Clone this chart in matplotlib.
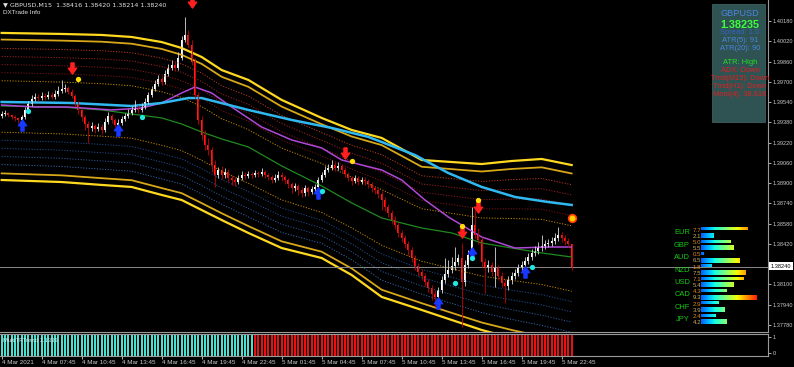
import numpy as np
import matplotlib
matplotlib.use('Agg')
import matplotlib.pyplot as plt
from matplotlib.patches import Rectangle
from matplotlib.path import Path
from matplotlib.colors import LinearSegmentedColormap

plt.rcParams['font.family'] = ['Liberation Sans', 'DejaVu Sans']

# ---- GBPUSD M15, 4 Mar 04:45 .. 5 Mar 23:45 ----
first_open = 1.39430
closes = [
    1.39446, 1.39454, 1.39438, 1.39422, 1.39415, 1.39399, 1.39422, 1.39478, 1.39525, 1.39565,
    1.39580, 1.39572, 1.39588, 1.39580, 1.39596, 1.39580, 1.39604, 1.39628, 1.39643, 1.39651,
    1.39620, 1.39588, 1.39533, 1.39478, 1.39422, 1.39367, 1.39336, 1.39351, 1.39328, 1.39343,
    1.39320, 1.39383, 1.39430, 1.39399, 1.39359, 1.39375, 1.39407, 1.39430, 1.39454, 1.39478,
    1.39493, 1.39478, 1.39501, 1.39541, 1.39596, 1.39643, 1.39683, 1.39722, 1.39699, 1.39762,
    1.39809, 1.39833, 1.39809, 1.39888, 1.40030, 1.40070, 1.39991, 1.39857, 1.39596, 1.39399,
    1.39280, 1.39201, 1.39162, 1.39043, 1.38965, 1.39004, 1.38965, 1.38988, 1.38941, 1.38925,
    1.38909, 1.38941, 1.38965, 1.38957, 1.38972, 1.38965, 1.38980, 1.38972, 1.38988, 1.38965,
    1.38949, 1.38925, 1.38941, 1.38965, 1.38949, 1.38925, 1.38894, 1.38862, 1.38878, 1.38846,
    1.38822, 1.38862, 1.38830, 1.38854, 1.38870, 1.38925, 1.38965, 1.39004, 1.39020, 1.39043,
    1.39020, 1.39036, 1.39004, 1.38972, 1.38941, 1.38917, 1.38941, 1.38909, 1.38925, 1.38917,
    1.38894, 1.38862, 1.38846, 1.38815, 1.38767, 1.38712, 1.38665, 1.38609, 1.38570, 1.38507,
    1.38467, 1.38420, 1.38373, 1.38309, 1.38246, 1.38199, 1.38167, 1.38120, 1.38073, 1.38025,
    1.38002, 1.38057, 1.38136, 1.38183, 1.38215, 1.38246, 1.38278, 1.38309, 1.38120, 1.38254,
    1.38333, 1.38570, 1.38491, 1.38452, 1.38278, 1.38230, 1.38254, 1.38199, 1.38230, 1.38167,
    1.38112, 1.38089, 1.38136, 1.38167, 1.38191, 1.38230, 1.38254, 1.38286, 1.38317, 1.38349,
    1.38365, 1.38388, 1.38404, 1.38420, 1.38428, 1.38444, 1.38467, 1.38491, 1.38467, 1.38444,
    1.38416, 1.38240]
highs = [
    1.39470, 1.39478, 1.39462, 1.39446, 1.39438, 1.39422, 1.39438, 1.39501, 1.39549, 1.39596,
    1.39612, 1.39604, 1.39620, 1.39612, 1.39628, 1.39620, 1.39636, 1.39667, 1.39715, 1.39683,
    1.39667, 1.39643, 1.39604, 1.39549, 1.39493, 1.39438, 1.39391, 1.39383, 1.39367, 1.39375,
    1.39367, 1.39415, 1.39462, 1.39446, 1.39415, 1.39407, 1.39430, 1.39454, 1.39486, 1.39509,
    1.39557, 1.39517, 1.39533, 1.39572, 1.39620, 1.39667, 1.39715, 1.39754, 1.39746, 1.39793,
    1.39841, 1.39872, 1.39857, 1.39936, 1.40062, 1.40212, 1.40109, 1.40030, 1.39888, 1.39620,
    1.39430, 1.39320, 1.39257, 1.39186, 1.39083, 1.39028, 1.39036, 1.39020, 1.39012, 1.38965,
    1.38949, 1.38965, 1.38996, 1.38988, 1.38996, 1.38988, 1.39004, 1.38996, 1.39020, 1.39004,
    1.38980, 1.38965, 1.38972, 1.38996, 1.38988, 1.38965, 1.38941, 1.38909, 1.38901, 1.38894,
    1.38870, 1.38886, 1.38878, 1.38878, 1.38894, 1.38949, 1.38988, 1.39036, 1.39051, 1.39083,
    1.39067, 1.39067, 1.39051, 1.39028, 1.38988, 1.38957, 1.38965, 1.38957, 1.38949, 1.38949,
    1.38933, 1.38909, 1.38878, 1.38862, 1.38838, 1.38791, 1.38736, 1.38688, 1.38641, 1.38594,
    1.38530, 1.38491, 1.38444, 1.38396, 1.38333, 1.38270, 1.38222, 1.38191, 1.38144, 1.38096,
    1.38057, 1.38081, 1.38167, 1.38309, 1.38294, 1.38317, 1.38396, 1.38341, 1.38428, 1.38294,
    1.38373, 1.38712, 1.38688, 1.38546, 1.38475, 1.38309, 1.38294, 1.38278, 1.38396, 1.38254,
    1.38199, 1.38144, 1.38167, 1.38199, 1.38222, 1.38262, 1.38286, 1.38317, 1.38349, 1.38380,
    1.38404, 1.38436, 1.38491, 1.38452, 1.38459, 1.38475, 1.38507, 1.38554, 1.38515, 1.38491,
    1.38467, 1.38420]
lows = [
    1.39415, 1.39430, 1.39422, 1.39407, 1.39391, 1.39375, 1.39367, 1.39407, 1.39462, 1.39509,
    1.39549, 1.39549, 1.39557, 1.39557, 1.39565, 1.39565, 1.39565, 1.39588, 1.39612, 1.39620,
    1.39604, 1.39572, 1.39509, 1.39446, 1.39391, 1.39320, 1.39217, 1.39312, 1.39296, 1.39312,
    1.39288, 1.39304, 1.39367, 1.39375, 1.39343, 1.39343, 1.39359, 1.39391, 1.39415, 1.39438,
    1.39462, 1.39454, 1.39462, 1.39486, 1.39525, 1.39580, 1.39628, 1.39667, 1.39675, 1.39683,
    1.39746, 1.39793, 1.39786, 1.39793, 1.39872, 1.40014, 1.39967, 1.39833, 1.39572, 1.39367,
    1.39241, 1.39162, 1.39122, 1.38988, 1.38870, 1.38941, 1.38933, 1.38941, 1.38909, 1.38886,
    1.38878, 1.38894, 1.38925, 1.38933, 1.38941, 1.38941, 1.38949, 1.38949, 1.38957, 1.38941,
    1.38925, 1.38901, 1.38909, 1.38925, 1.38917, 1.38894, 1.38862, 1.38822, 1.38838, 1.38807,
    1.38791, 1.38799, 1.38799, 1.38815, 1.38830, 1.38854, 1.38909, 1.38949, 1.38988, 1.39004,
    1.38996, 1.39004, 1.38980, 1.38949, 1.38917, 1.38886, 1.38901, 1.38886, 1.38894, 1.38886,
    1.38862, 1.38830, 1.38815, 1.38783, 1.38688, 1.38680, 1.38633, 1.38578, 1.38538, 1.38475,
    1.38436, 1.38388, 1.38333, 1.38278, 1.38215, 1.38167, 1.38136, 1.38089, 1.38041, 1.37978,
    1.37923, 1.37986, 1.38033, 1.38112, 1.38160, 1.38191, 1.38215, 1.38254, 1.37765, 1.38089,
    1.38230, 1.38309, 1.38467, 1.38420, 1.38230, 1.38033, 1.38199, 1.38167, 1.38081, 1.38136,
    1.38081, 1.37954, 1.38057, 1.38104, 1.38144, 1.38167, 1.38207, 1.38230, 1.38262, 1.38294,
    1.38325, 1.38341, 1.38365, 1.38380, 1.38396, 1.38404, 1.38420, 1.38444, 1.38436, 1.38412,
    1.38396, 1.38214]

# indicator lines, sampled at these bars
knot_bars = [0, 18, 30, 39, 48, 54, 60, 66, 74, 84, 96, 105, 114, 126, 135, 144, 153, 162, 171]
band_top = [1.40086, 1.40078, 1.40070, 1.40054, 1.40014, 1.39967, 1.39896, 1.39793, 1.39715, 1.39557,
            1.39415, 1.39320, 1.39257, 1.39083, 1.39067, 1.39051, 1.39075, 1.39091, 1.39043]
band_bot = [1.38925, 1.38909, 1.38886, 1.38870, 1.38807, 1.38767, 1.38688, 1.38609, 1.38507, 1.38388,
            1.38309, 1.38175, 1.38002, 1.37899, 1.37820, 1.37741, 1.37678, 1.37623, 1.37567]
mid_line = [1.39509, 1.39501, 1.39478, 1.39446, 1.39415, 1.39367, 1.39304, 1.39249, 1.39186, 1.39036,
            1.38878, 1.38744, 1.38625, 1.38546, 1.38507, 1.38428, 1.38388, 1.38349, 1.38317]
# band levels as share of the half width
band_levels = [0.35, 0.46, 0.57, 0.68, 0.79]

ma_slow_bars = [0, 21, 39, 48, 56, 60, 74, 87, 99, 110, 114, 124, 134, 144, 154, 164, 171]
ma_slow = [1.39541, 1.39533, 1.39509, 1.39533, 1.39572, 1.39572, 1.39478, 1.39399, 1.39336, 1.39265,
           1.39225, 1.39122, 1.38980, 1.38870, 1.38791, 1.38751, 1.38728]
ma_fast_bars = [0, 10, 20, 33, 42, 48, 54, 58, 63, 69, 78, 87, 96, 102, 114, 120, 127, 134, 139, 144,
                154, 164, 171]
ma_fast = [1.39517, 1.39501, 1.39501, 1.39478, 1.39493, 1.39533, 1.39612, 1.39659, 1.39612, 1.39501,
           1.39343, 1.39241, 1.39178, 1.39083, 1.39004, 1.38925, 1.38767, 1.38633, 1.38554, 1.38475,
           1.38388, 1.38396, 1.38396]

sell_bars = [21, 57, 103, 138, 143]
sell_px = [1.39809, 1.40330, 1.39138, 1.38515, 1.38712]
buy_bars = [6, 35, 95, 131, 141, 157]
buy_px = [1.39359, 1.39320, 1.38822, 1.37954, 1.38349, 1.38199]
ydot_bars = [23, 105, 138, 143]
ydot_px = [1.39722, 1.39075, 1.38562, 1.38767]
cdot_bars = [8, 42, 96, 136, 141, 159]
cdot_px = [1.39470, 1.39422, 1.38838, 1.38112, 1.38309, 1.38238]
alert_bar = [171]
alert_px = [1.38625]

trend = [1] * 76 + [-1] * 96   # MTF trend histogram: up until 4 Mar 23:45, then down

bid = 1.38240
price_ticks = [1.37780, 1.37940, 1.38100, 1.38260, 1.38420, 1.38580, 1.38740, 1.38900,
               1.39060, 1.39220, 1.39380, 1.39540, 1.39700, 1.39860, 1.40020, 1.40180]
time_ticks = [0, 12, 24, 36, 48, 60, 72, 84, 96, 108, 120, 132, 144, 156, 168]
time_labels = ['4 Mar 2021', '4 Mar 07:45', '4 Mar 10:45', '4 Mar 13:45', '4 Mar 16:45',
               '4 Mar 19:45', '4 Mar 22:45', '5 Mar 01:45', '5 Mar 04:45', '5 Mar 07:45',
               '5 Mar 10:45', '5 Mar 13:45', '5 Mar 16:45', '5 Mar 19:45', '5 Mar 22:45']

currencies = ['EUR', 'GBP', 'AUD', 'NZD', 'USD', 'CAD', 'CHF', 'JPY']
strength_a = [7.7, 5.0, 0.5, 1.8, 7.1, 4.3, 2.9, 2.4]
strength_b = [2.1, 5.5, 6.5, 7.5, 5.4, 9.3, 3.9, 4.2]

info_lines = [('GBPUSD', '#4a86e0', 6.6, 14), ('1.38235', '#3cff3c', 7.8, 24.5),
              ('Spread: 1.0', '#2f66c8', 5.4, 32.5), ('ATR(5): 91', '#4a86e0', 5.4, 41),
              ('ATR(20): 90', '#4a86e0', 5.4, 49), ('ATR: High', '#22e022', 5.4, 62),
              ('ADX: Down', '#e02020', 5.4, 71), ('Trnd(M15): Down', '#e02020', 5.4, 79),
              ('Trnd(H1): Down', '#e02020', 5.4, 87), ('Mom(4): 38.618', '#e02020', 5.4, 95)]

W, H = 794, 367
fig = plt.figure(figsize=(W / 100, H / 100), dpi=100, facecolor='black')

ax = fig.add_axes([0, 35 / H, 768 / W, 332 / H], facecolor='black')
ax2 = fig.add_axes([0, 11 / H, 768 / W, 22 / H], facecolor='black')

opens = [first_open] + closes[:-1]
idx = np.arange(len(closes))
o = np.array(opens)
c = np.array(closes)
up = c >= o

# bands
top = np.array(band_top)
bot = np.array(band_bot)
cen = (top + bot) / 2
hw = (top - bot) / 2
up_cols = ['#c88a00', '#7a1414', '#8c1a1a', '#a02222', '#b83a1e']
dn_cols = ['#c88a00', '#1e4a8c', '#25508f', '#2b5a9c', '#3466aa']
for f, cu, cd in zip(band_levels, up_cols, dn_cols):
    ax.plot(knot_bars, cen + f * hw, color=cu, lw=0.7, ls=(0, (1.2, 1.6)))
    ax.plot(knot_bars, cen - f * hw, color=cd, lw=0.7, ls=(0, (1.2, 1.6)))
ax.plot(knot_bars, cen + 0.91 * hw, color='#d8a818', lw=1.3)
ax.plot(knot_bars, top, color='#ffd820', lw=1.6)
ax.plot(knot_bars, cen - 0.91 * hw, color='#d8a818', lw=1.3)
ax.plot(knot_bars, bot, color='#ffd820', lw=1.6)
ax.plot(knot_bars, mid_line, color='#1f8a1f', lw=0.9)
ax.plot(ma_fast_bars, ma_fast, color='#b048d8', lw=1.1)
ax.plot(ma_slow_bars, ma_slow, color='#30b8f0', lw=1.8)

ax.axhline(bid, color='#8a8a8a', lw=0.7)

# candles
ax.vlines(idx[up], np.array(lows)[up], np.array(highs)[up], color='#d8d8d8', lw=0.6)
ax.vlines(idx[~up], np.array(lows)[~up], np.array(highs)[~up], color='#c80000', lw=0.6)
ax.bar(idx[up], (c - o)[up], bottom=o[up], width=0.62, color='white', lw=0)
ax.bar(idx[~up], (o - c)[~up], bottom=c[~up], width=0.62, color='#ff1a1a', lw=0)

# arrows
down_arrow = Path([(-0.28, 1), (0.28, 1), (0.28, 0.05), (0.75, 0.05), (0, -1), (-0.75, 0.05),
                   (-0.28, 0.05), (-0.28, 1)], closed=True)
up_arrow = Path([(-0.28, -1), (0.28, -1), (0.28, -0.05), (0.75, -0.05), (0, 1), (-0.75, -0.05),
                 (-0.28, -0.05), (-0.28, -1)], closed=True)
ax.plot(sell_bars, sell_px, ls='none', marker=down_arrow, ms=8, color='#ff2020', mec='#ff2020')
ax.plot(buy_bars, buy_px, ls='none', marker=up_arrow, ms=8, color='#1838ff', mec='#1838ff')
ax.plot(ydot_bars, ydot_px, ls='none', marker='o', ms=3.8, color='#ffe000', mec='none')
ax.plot(cdot_bars, cdot_px, ls='none', marker='o', ms=3.8, color='#20e8e0', mec='none')
ax.plot(alert_bar, alert_px, ls='none', marker='o', ms=5.5, color='#ffd000', mec='#ff4000', mew=1.2)

xlim = (-0.5, 229.9)
ax.set_xlim(*xlim)
ax.set_ylim(1.37725, 1.40346)
ax.yaxis.tick_right()
ax.set_yticks(price_ticks)
# the 1.38260 label sits under the bid box, as in the terminal
ax.set_yticklabels(['' if abs(p - bid) < 0.0004 else '%.5f' % p for p in price_ticks])
ax.tick_params(axis='y', colors='#c8c8c8', labelsize=4.1, length=2, width=0.6, pad=1.2)
ax.set_xticks([])
for s in ['top', 'left']:
    ax.spines[s].set_visible(False)
for s in ['right', 'bottom']:
    ax.spines[s].set_color('#9a9a9a')
    ax.spines[s].set_linewidth(0.8)

# trend histogram pane
tr = np.array(trend)
ax2.bar(idx[tr > 0], np.ones((tr > 0).sum()), width=0.62, color='#48e0d0', lw=0)
ax2.bar(idx[tr < 0], np.ones((tr < 0).sum()), width=0.62, color='#e81010', lw=0)
ax2.set_xlim(*xlim)
ax2.set_ylim(0, 1)
ax2.yaxis.tick_right()
ax2.set_yticks([0.12, 0.85])
ax2.set_yticklabels(['0', '1'])
ax2.tick_params(axis='y', colors='#c8c8c8', labelsize=4.1, length=2, width=0.6, pad=1.2)
ax2.set_xticks(time_ticks)
ax2.set_xticklabels(time_labels)
ax2.tick_params(axis='x', colors='#c8c8c8', labelsize=4.5, length=2, width=0.6, pad=1)
for lab in ax2.get_xticklabels():
    lab.set_ha('left')
ax2.spines['left'].set_visible(False)
for s in ['top', 'right', 'bottom']:
    ax2.spines[s].set_color('#9a9a9a')
    ax2.spines[s].set_linewidth(0.8)
ax2.text(0.004, 0.72, 'MultiTFTrend 1.1339', transform=ax2.transAxes, color='#e8e8e8',
         fontsize=4.2, va='center')

# overlay in pixels for panels
ov = fig.add_axes([0, 0, 1, 1], facecolor='none')
ov.set_axis_off()

ov.text(3, 5, '\u25bc GBPUSD,M15  1.38416 1.38420 1.38214 1.38240', color='#e0e0e0',
        fontsize=4.6, va='center', family=['DejaVu Sans'])
ov.text(3, 12, 'DXTrade Info', color='#e0e0e0', fontsize=4.6, va='center')

ov.add_patch(Rectangle((712, 4), 53, 118, facecolor='#2f5252', edgecolor='#3e6262', lw=0.6))
for txt, col, fs, yy in info_lines:
    ov.text(740, yy, txt, color=col, fontsize=fs, ha='center', va='center',
            fontweight='bold' if fs > 7.5 else 'normal')

ov.add_patch(Rectangle((769, 262), 24, 8, facecolor='white', edgecolor='none'))
ov.text(781, 266, '%.5f' % bid, color='black', fontsize=4.1, ha='center', va='center')

# currency strength meter
meter_cmap = LinearSegmentedColormap.from_list('meter', plt.cm.jet(np.linspace(0.22, 0.92, 256)))
for k, (cur, a, b) in enumerate(zip(currencies, strength_a, strength_b)):
    yc = 233 + k * 12.35
    ov.text(690, yc, cur, color='#18c818', fontsize=5.4, ha='right', va='center')
    ov.text(693, yc - 3, '%.1f' % a, color='#e08a18', fontsize=4.4, ha='left', va='center')
    ov.text(693, yc + 3, '%.1f' % b, color='#d0b060', fontsize=4.4, ha='left', va='center')
    for v, y0, y1 in [(a, yc - 5, yc - 2.6), (b, yc + 0.5, yc + 5)]:
        grad = np.linspace(0, v, 64)[None, :]
        ov.imshow(grad, cmap=meter_cmap, vmin=0, vmax=10, aspect='auto',
                  extent=(701, 701 + max(v, 0.35) * 6.0, y1, y0), interpolation='bilinear')

ov.set_xlim(0, W)
ov.set_ylim(H, 0)

fig.savefig('out.png', dpi=100, facecolor='black')
